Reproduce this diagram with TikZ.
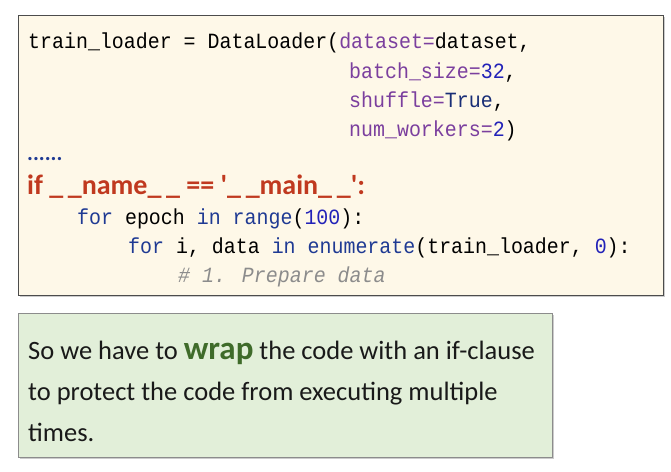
\documentclass[tikz,border=0pt]{standalone}
\usepackage{fontspec}
\setmainfont{Carlito}
\newfontfamily\codef{Liberation Mono}
\usetikzlibrary{shadows}
\definecolor{boxfill}{HTML}{FEF8E8}
\definecolor{greenfill}{HTML}{E2EFD9}
\definecolor{argc}{HTML}{7B3F9E}
\definecolor{numc}{HTML}{2222B8}
\definecolor{kwc}{HTML}{1F3A93}
\definecolor{redc}{HTML}{C0391F}
\definecolor{wrapc}{HTML}{3F6B2A}
\newcommand{\cd}[1]{\scalebox{1.12}[1.22]{\codef\fontsize{17.8}{20}\selectfont #1}}
\tikzset{
 code/.style={anchor=base west,inner sep=0pt},
 panel/.style={draw=black!70,line width=0.8pt,drop shadow={shadow xshift=2pt,shadow yshift=-2pt,opacity=0.4}},
 txt/.style={anchor=base west,inner sep=0pt,font=\fontsize{26.5}{30}\selectfont,text=black!90}
}
\begin{document}
\begin{tikzpicture}[x=1pt,y=-1pt]
\useasboundingbox (0,0) rectangle (671,471);
\node[panel,fill=boxfill,minimum width=645,minimum height=280,anchor=north west,inner sep=0] (codebox) at (18,15) {};
\node[panel,fill=greenfill,draw=black!45,minimum width=534,minimum height=144,anchor=north west,inner sep=0] (note) at (18,313) {};
\node[code] (l1) at (28,48) {\cd{train\_loader = DataLoader(\textcolor{argc}{dataset=}dataset,}};
\node[code] (l2) at (349,78) {\cd{\textcolor{argc}{batch\_size=}\textcolor{numc}{32},}};
\node[code] (l3) at (349,107) {\cd{\textcolor{argc}{shuffle=}\textcolor{kwc!80!black}{True},}};
\node[code] (l4) at (349,136) {\cd{\textcolor{argc}{num\_workers=}\textcolor{numc}{2})}};
\node[code,text=kwc,font=\bfseries\fontsize{22}{24}\selectfont] (l5) at (27,160) {......};
\node[code,text=redc,font=\bfseries\fontsize{28}{30}\selectfont] (l6) at (27,194) {if \_\,\_name\_\,\_ == \textquotesingle\_\,\_main\_\,\_\textquotesingle:};
\node[code] (l7) at (77,224) {\cd{\textcolor{kwc}{for} epoch \textcolor{kwc}{in} \textcolor{kwc}{range}(\textcolor{numc}{100}):}};
\node[code] (l8) at (128,253) {\cd{\textcolor{kwc}{for} i, data \textcolor{kwc}{in} \textcolor{kwc}{enumerate}(train\_loader, \textcolor{numc}{0}):}};
\node[code,text=black!45] (l9) at (178,282) {\cd{\itshape \# 1. Prepare data}};
\node[txt] (t1) at (28,359) {So we have to {\bfseries\fontsize{33}{34}\selectfont\color{wrapc}wrap} the code with an if-clause};
\node[txt] (t2) at (28,400) {to protect the code from executing multiple};
\node[txt] (t3) at (28,441) {times.};
\end{tikzpicture}
\end{document}
